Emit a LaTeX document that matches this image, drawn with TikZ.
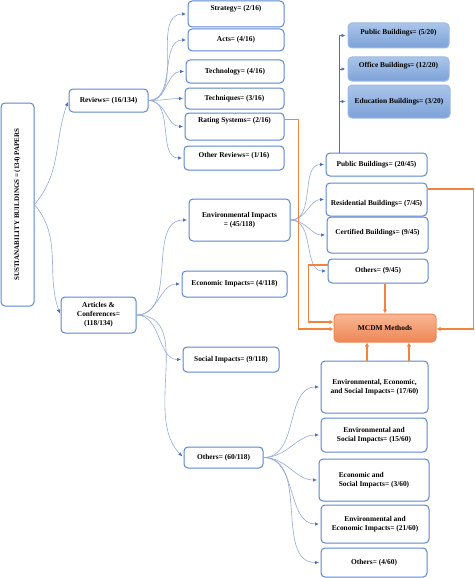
\documentclass[tikz,border=0pt]{standalone}
\usepackage{fontspec}
\usepackage{graphicx}
\setmainfont{Liberation Serif}
\usetikzlibrary{arrows.meta,calc}
\definecolor{boxblue}{HTML}{5A86D2}
\definecolor{curveblue}{HTML}{93A9D6}
\definecolor{tipblue}{HTML}{4A6FC0}
\definecolor{orng}{HTML}{F0843F}
\definecolor{shadetop}{HTML}{AAC5EA}
\definecolor{shadebot}{HTML}{7DA2D8}
\definecolor{shadeline}{HTML}{9DB9E2}
\definecolor{mtop}{HTML}{F8B892}
\definecolor{mbot}{HTML}{EE8657}
\begin{document}
\begin{tikzpicture}[x=1pt,y=-1pt,
  box/.style={draw=boxblue, line width=1pt, rounded corners=4pt, fill=white,
    font=\bfseries\fontsize{7.4}{8.8}\selectfont, align=center, inner sep=1pt, text=black},
  sbox/.style={box, draw=shadeline, top color=shadetop, bottom color=shadebot},
  mbox/.style={box, draw=mbot, top color=mtop, bottom color=mbot},
  tup/.style={text height=5pt, text depth={1.5pt+2*#1}},
  tdown/.style={text height={5pt+2*#1}, text depth=1.5pt},
  curve/.style={draw=curveblue, line width=0.6pt, -{Latex[length=4pt,width=3.5pt,color=tipblue]}, shorten >=1.5pt},
  barrow/.style={draw=tipblue, line width=0.9pt, -{Latex[length=4pt,width=3.5pt]}, shorten >=2pt},
  oarrow/.style={draw=orng, line width=1.3pt, -{Latex[length=4pt,width=4.5pt]}},
]
\path[use as bounding box] (0,0) rectangle (474,578);

% root
\node[box, minimum width=33pt, minimum height=203pt, font=\bfseries\fontsize{7}{8}\selectfont] (main) at (17.5,204.5)
  {\rotatebox{90}{SUSTIANABILITY BUILDINGS = (134) PAPERS}};

% level 1
\node[box, minimum width=79pt, minimum height=23pt] (rev) at (108.5,100.5) {Reviews= (16/134)};
\node[box, minimum width=75pt, minimum height=36pt] (art) at (98.5,315) {Articles \&\\Conferences=\\(118/134)};

% reviews children
\node[box, minimum width=96pt, minimum height=26pt, tup=5pt] (strat) at (236,14) {Strategy= (2/16)};
\node[box, minimum width=96pt, minimum height=22pt] (acts) at (236,40) {Acts= (4/16)};
\node[box, minimum width=98pt, minimum height=23pt] (tech) at (235,71.5) {Technology= (4/16)};
\node[box, minimum width=99pt, minimum height=21pt] (techn) at (234.5,98.5) {Techniques= (3/16)};
\node[box, minimum width=99pt, minimum height=27pt, tup=5.5pt] (rate) at (234.5,126.5) {Rating Systems= (2/16)};
\node[box, minimum width=100pt, minimum height=24pt, tup=2pt] (othrev) at (234,158) {Other Reviews= (1/16)};

% articles children
\node[box, minimum width=101pt, minimum height=42pt] (env) at (239.5,220) {Environmental Impacts\\= (45/118)};
\node[box, minimum width=105pt, minimum height=26pt] (eco) at (234.5,284) {Economic Impacts= (4/118)};
\node[box, minimum width=96pt, minimum height=25pt] (soc) at (231,359.5) {Social Impacts= (9/118)};
\node[box, minimum width=79pt, minimum height=21pt] (oth60) at (223.5,457.5) {Others= (60/118)};

% shaded public building types
\node[sbox, minimum width=101pt, minimum height=25pt, tup=2.5pt] (pb20) at (398.5,35.5) {Public Buildings= (5/20)};
\node[sbox, minimum width=101pt, minimum height=24pt, tup=3pt] (ob20) at (398.5,69) {Office Buildings= (12/20)};
\node[sbox, minimum width=102pt, minimum height=33pt] (eb20) at (399,101.5) {Education Buildings= (3/20)};

% environmental children
\node[box, minimum width=101pt, minimum height=23pt] (pub45) at (376.5,164.5) {Public Buildings= (20/45)};
\node[box, minimum width=101pt, minimum height=33pt, tdown=4.5pt] (res45) at (376.5,199.5) {Residential Buildings= (7/45)};
\node[box, minimum width=101pt, minimum height=36pt, tup=2pt] (cert45) at (377.5,235) {Certified Buildings= (9/45)};
\node[box, minimum width=100pt, minimum height=24pt] (oth45) at (378,271) {Others= (9/45)};

% MCDM
\node[mbox, minimum width=102pt, minimum height=28pt] (mcdm) at (385,328) {MCDM Methods};

% others children
\node[box, minimum width=107pt, minimum height=52pt] (ees) at (374.5,387) {Environmental, Economic,\\and Social Impacts= (17/60)};
\node[box, minimum width=106pt, minimum height=34pt] (es) at (374,435) {Environmental and\\Social Impacts= (15/60)};
\node[box, minimum width=110pt, minimum height=42pt, align=left] (ecs) at (374,480) {Economic and\\Social Impacts= (3/60)};
\node[box, minimum width=108pt, minimum height=38pt] (ee) at (375,524) {Environmental and\\Economic Impacts= (21/60)};
\node[box, minimum width=106pt, minimum height=29pt] (oth4) at (374,562.5) {Others= (4/60)};

% curved blue connectors
\draw[curve] (main.east) to[out=50,in=-110] (rev.west);
\draw[curve] (main.east) to[out=-50,in=110] (art.west);

\foreach \t in {strat,acts,tech,techn,rate,othrev}
  \draw[curve] (rev.east) to[out=0,in=180] (\t.west);

\draw[curve] (art.east) to[out=0,in=180] (env.west);
\draw[curve] (art.east) to[out=0,in=180] (eco.west);
\draw[curve] (art.east) to[out=0,in=180] (soc.west);
\draw[curve] (art.east) to[out=0,in=135] (oth60.west);

\foreach \t in {pub45,res45,cert45,oth45}
  \draw[curve] (env.east) to[out=0,in=180] (\t.west);

\foreach \t in {ees,es,ecs,ee,oth4}
  \draw[curve] (oth60.east) to[out=0,in=180] (\t.west);

% blue trunk to shaded boxes
\draw[barrow] ([xshift=14pt]pub45.north west) |- (pb20.west);
\draw[barrow] ([xshift=14pt]pub45.north west) |- (ob20.west);
\draw[barrow] ([xshift=14pt]pub45.north west) |- (eb20.west);

% orange connectors
\draw[oarrow] ([yshift=7pt]rate.east) -| ($(mcdm.west)+(-35,1)$) -- ([yshift=-1pt]mcdm.west);
\draw[oarrow] ([yshift=6pt]oth45.west) -| ($(mcdm.west)+(-25,-6)$) -- ([yshift=6pt]mcdm.west);
\draw[oarrow] (oth45.south -| mcdm.north) -- (mcdm.north);
\draw[oarrow] ([yshift=10.5pt]res45.east) -| ($(mcdm.east)+(37,1)$) -- ([yshift=-1pt]mcdm.east);
\draw[oarrow] ([xshift=-18pt]mcdm.south |- ees.north) -- ([xshift=-18pt]mcdm.south);
\draw[oarrow] ([xshift=24pt]mcdm.south |- ees.north) -- ([xshift=24pt]mcdm.south);
\end{tikzpicture}
\end{document}
